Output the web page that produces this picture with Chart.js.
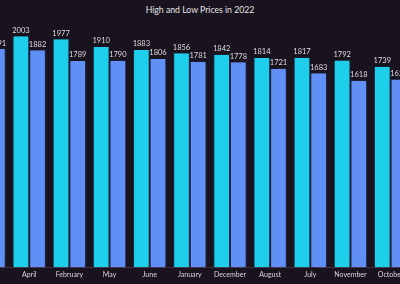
<!DOCTYPE html>
<html>
<head>
<meta charset="utf-8">
<script src="https://cdn.jsdelivr.net/npm/chart.js@4"></script>
<style>
  html, body { margin:0; padding:0; background:#19131f; overflow:hidden; }
  #wrap { position:relative; width:400px; height:284px; overflow:hidden; background:#19131f; }
  #title { position:absolute; left:0; top:3px; width:400px; text-align:center; color:#e4e4e4;
           font-family:Lato, "Noto Sans", sans-serif; font-size:8.7px; line-height:14px; }
  #c { position:absolute; left:-31px; top:0; }
</style>
</head>
<body>
<div id="wrap">
  <div id="title">High and Low Prices in 2022</div>
  <canvas id="c" width="482" height="284"></canvas>
</div>
<script>
const categories = ['March','April','February','May','June','January','December','August','July','November','October','September'];
const highValues = [2035, 2003, 1977, 1910, 1883, 1856, 1842, 1814, 1817, 1792, 1739, 1705];
const lowValues  = [1891, 1882, 1789, 1790, 1806, 1781, 1778, 1721, 1683, 1618, 1627, 1602];
const yMin = 0, yMax = 2150;

const shadowPlugin = {
  id: 'barShadow',
  beforeDatasetsDraw(chart) {
    const ctx = chart.ctx;
    ctx.save();
    ctx.shadowColor = '#2a3656';
    ctx.shadowBlur = 6;
  },
  afterDatasetsDraw(chart) {
    const ctx = chart.ctx;
    ctx.restore();
    ctx.save();
    ctx.font = '7.5px Lato, "Noto Sans", sans-serif';
    ctx.fillStyle = '#dedede';
    ctx.textAlign = 'center';
    ctx.textBaseline = 'middle';
    chart.data.datasets.forEach((ds, i) => {
      const meta = chart.getDatasetMeta(i);
      meta.data.forEach((el, j) => {
        ctx.fillText(String(ds.data[j]), el.x, el.y - 6);
      });
    });
    ctx.restore();
  }
};

new Chart(document.getElementById('c'), {
  type: 'bar',
  data: {
    labels: categories,
    datasets: [
      { label: 'High', data: highValues, backgroundColor: '#1dcfea',
        borderColor: 'rgba(12,40,60,0.8)', borderWidth: {left:1, right:1, top:0, bottom:0}, borderSkipped: false,
        categoryPercentage: 0.83, barPercentage: 1 },
      { label: 'Low', data: lowValues, backgroundColor: '#608ff6',
        borderColor: 'rgba(20,30,70,0.8)', borderWidth: {left:1, right:1, top:0, bottom:0}, borderSkipped: false,
        categoryPercentage: 0.83, barPercentage: 1 }
    ]
  },
  options: {
    responsive: false,
    animation: false,
    devicePixelRatio: 1,
    layout: { padding: { top: 19.2, left: 0, right: 0, bottom: 0 } },
    plugins: { legend: { display: false }, title: { display: false }, tooltip: { enabled: false } },
    scales: {
      x: {
        grid: { display: false, drawTicks: false },
        border: { display: true, color: '#4a2a3c', width: 1 },
        ticks: { color: '#d8d8d8', font: { family: 'Lato, "Noto Sans", sans-serif', size: 7 }, padding: 3.5, maxRotation: 0, autoSkip: false },
        afterFit(scale) { scale.height = 16.5; }
      },
      y: { display: false, min: yMin, max: yMax }
    }
  },
  plugins: [shadowPlugin]
});
</script>
</body>
</html>
